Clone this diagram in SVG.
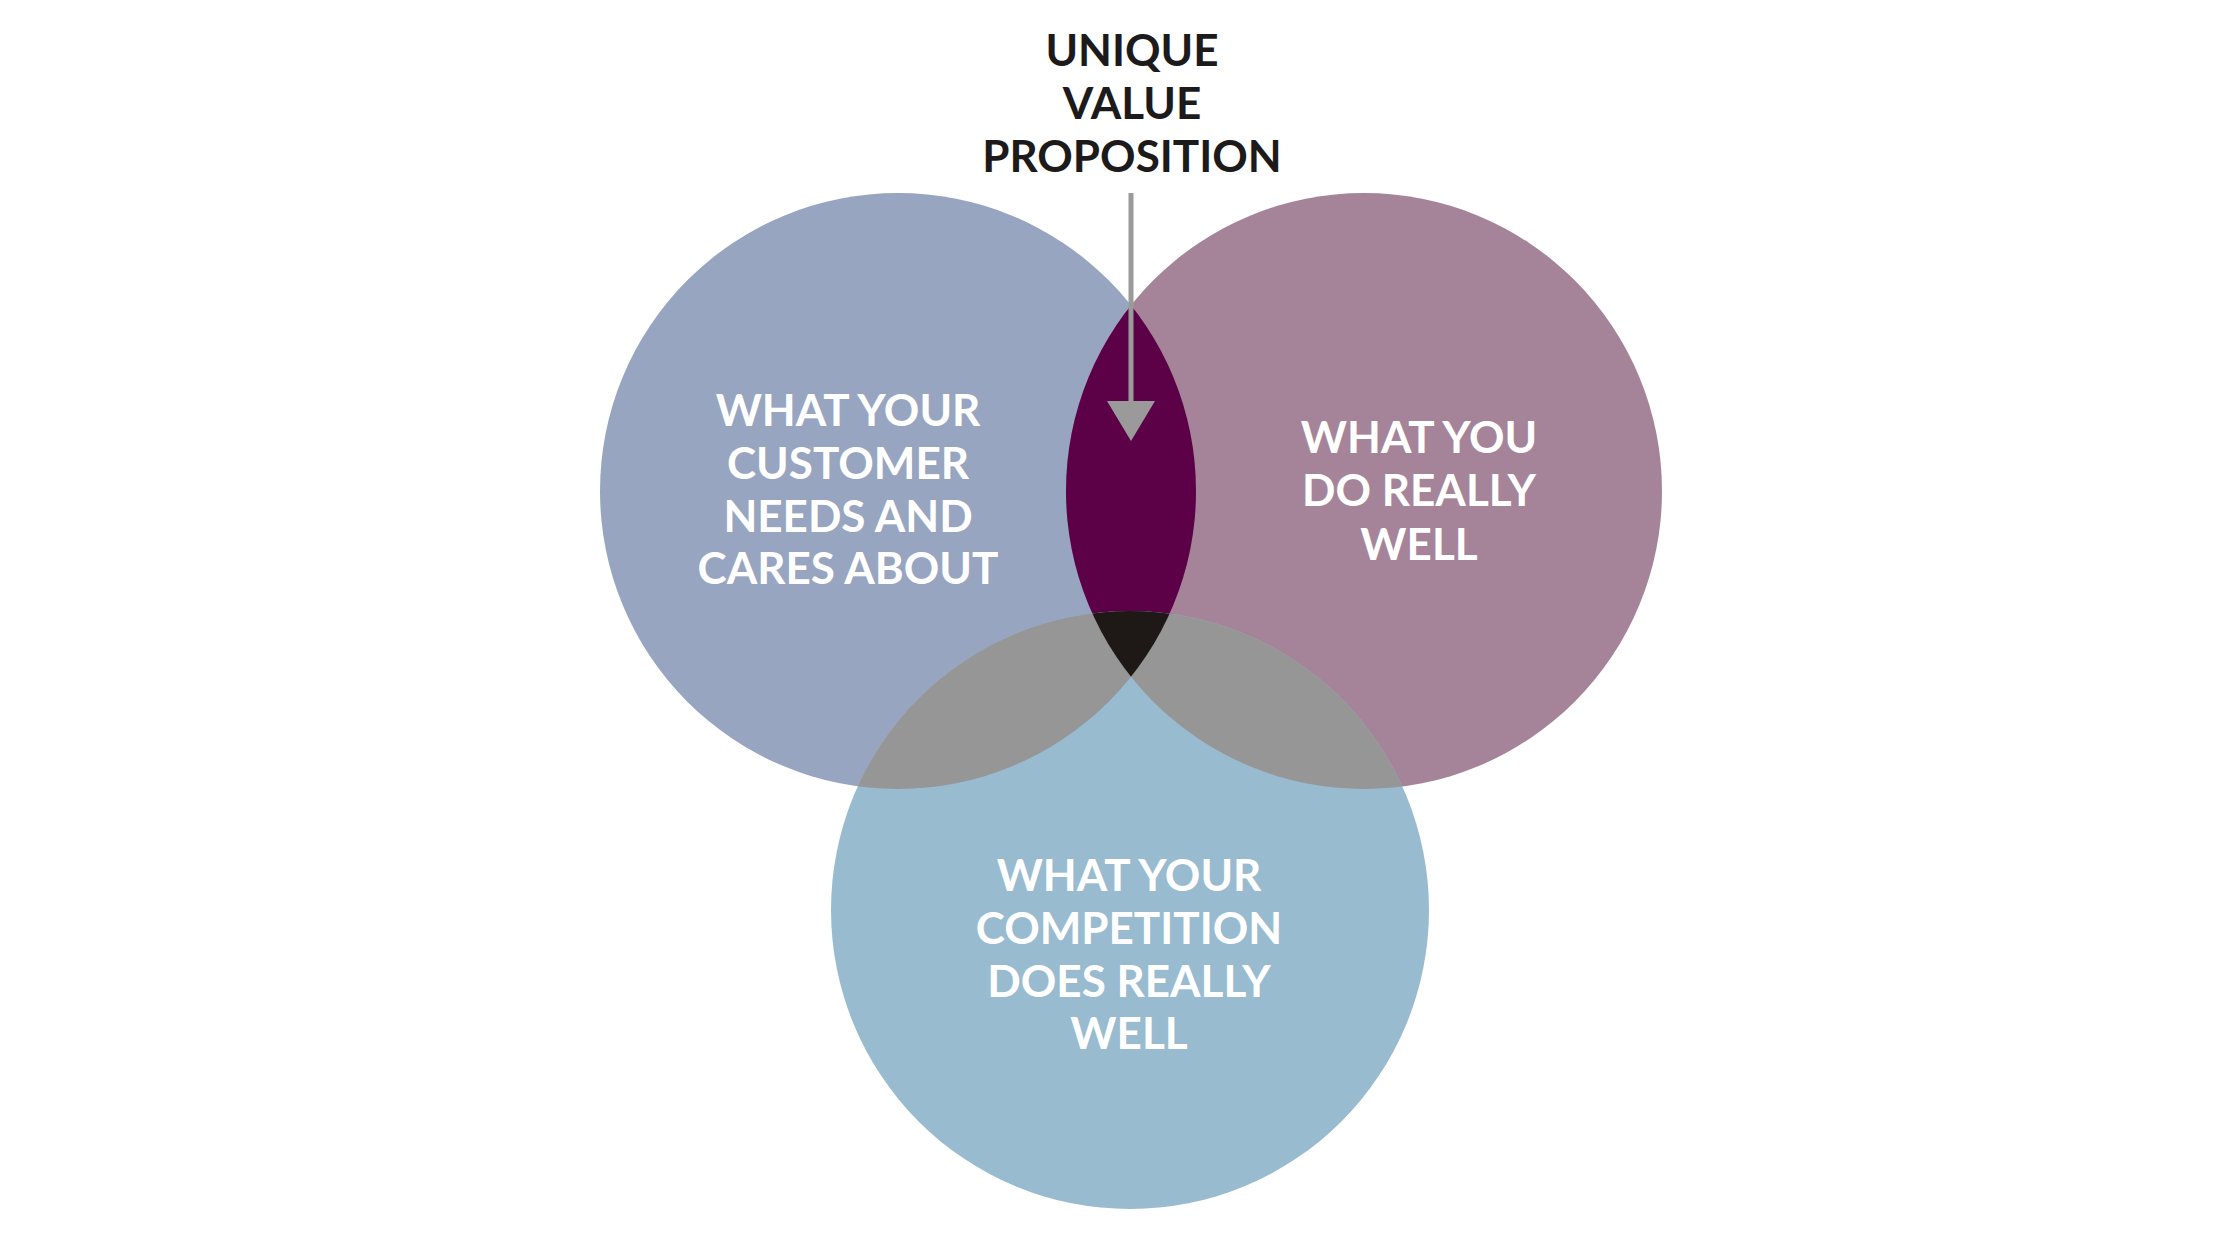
<svg xmlns="http://www.w3.org/2000/svg" width="2213" height="1245" viewBox="0 0 2213 1245">
  <style>
    .lbl { font-family: Lato, "Open Sans", "Liberation Sans", sans-serif; font-weight: 700; font-size: 44px; fill: #ffffff; text-anchor: middle; }
    .title { font-family: Lato, "Open Sans", "Liberation Sans", sans-serif; font-weight: 700; font-size: 44px; fill: #1c1a1a; text-anchor: middle; }
    .grey { fill: #969696; }
  </style>
  <defs>
    <clipPath id="clipL"><circle cx="898" cy="491" r="298"/></clipPath>
    <clipPath id="clipR"><circle cx="1364" cy="491" r="298"/></clipPath>
    <clipPath id="clipB"><circle cx="1131" cy="910" r="298"/></clipPath>
    <marker id="arrowhead" markerUnits="userSpaceOnUse" markerWidth="42" markerHeight="50" viewBox="0 -25 42 50" refX="0" refY="0" orient="auto">
      <path d="M0,-24 L40,0 L0,24 z" fill="#9a9a9a"/>
    </marker>
  </defs>
  <rect width="2213" height="1245" fill="#ffffff"/>

  <g id="node-customer">
    <circle cx="898" cy="491" r="298" fill="#97a5c0"/>
  </g>
  <g id="node-you">
    <circle cx="1364" cy="491" r="298" fill="#a5849a"/>
  </g>
  <g id="node-competition">
    <circle cx="1130" cy="910" r="299" fill="#98bbd0"/>
  </g>

  <g id="overlaps">
    <g clip-path="url(#clipL)"><circle cx="1364" cy="491" r="298" fill="#5c0048"/></g>
    <g clip-path="url(#clipL)"><circle cx="1130" cy="910" r="299" class="grey"/></g>
    <g clip-path="url(#clipR)"><circle cx="1130" cy="910" r="299" class="grey"/></g>
    <g clip-path="url(#clipL)"><g clip-path="url(#clipR)"><circle cx="1130" cy="910" r="299" fill="#1e1917"/></g></g>
  </g>

  <g id="labels">
    <text class="lbl" x="848" y="426">WHAT YOUR</text>
    <text class="lbl" x="848" y="479">CUSTOMER</text>
    <text class="lbl" x="848" y="532">NEEDS AND</text>
    <text class="lbl" x="848" y="584">CARES ABOUT</text>

    <text class="lbl" x="1419" y="453">WHAT YOU</text>
    <text class="lbl" x="1419" y="506">DO REALLY</text>
    <text class="lbl" x="1419" y="560">WELL</text>

    <text class="lbl" x="1129" y="891">WHAT YOUR</text>
    <text class="lbl" x="1129" y="944">COMPETITION</text>
    <text class="lbl" x="1129" y="997">DOES REALLY</text>
    <text class="lbl" x="1129" y="1049">WELL</text>
  </g>

  <g id="node-uvp">
    <text class="title" x="1132" y="66">UNIQUE</text>
    <text class="title" x="1132" y="119">VALUE</text>
    <text class="title" x="1132" y="172">PROPOSITION</text>
  </g>

  <g id="connectors">
    <line x1="1131" y1="193" x2="1131" y2="401" stroke="#9a9a9a" stroke-width="5" marker-end="url(#arrowhead)"/>
  </g>
</svg>
